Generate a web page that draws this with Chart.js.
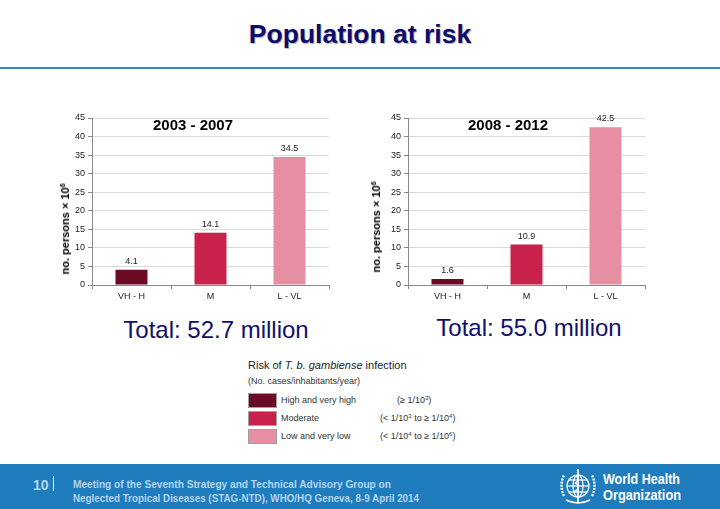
<!DOCTYPE html>
<html>
<head>
<meta charset="utf-8">
<script src="https://cdn.jsdelivr.net/npm/chart.js@4.4.1/dist/chart.umd.min.js"></script>
<style>
  body { margin: 0; width: 720px; height: 509px; position: relative; overflow: hidden; background: #fff;
         font-family: "Liberation Sans", Arial, sans-serif; color: #222; }
  .abs { position: absolute; white-space: nowrap; }
  #title { left: 0; width: 720px; top: 19px; text-align: center; font-size: 26.5px; font-weight: bold;
           color: #0c0c6a; text-shadow: 1px 1px 1px rgba(0,0,0,0.3); line-height: 30px; }
  #rule { left: 0; top: 67px; width: 720px; height: 2px; background: #3a84bf; }
  .box { position: absolute; }
  .sub { font-size: 15px; font-weight: bold; color: #000; transform: translate(-50%, -50%); line-height: 18px; }
  .ytitle { font-size: 11px; font-weight: bold; color: #000; transform: translate(-50%, -50%) rotate(-90deg); line-height: 14px; }
  .ytitle sup { font-size: 7px; vertical-align: 4px; line-height: 0; }
  .total { font-size: 24px; color: #10106a; transform: translate(-50%, -50%); line-height: 28px; }
  .lg { font-size: 9px; color: #333; line-height: 12px; }
  .lg sup { font-size: 6px; vertical-align: 3px; line-height: 0; }
  .sw { position: absolute; width: 27px; height: 13px; border: 1px solid #a0a0a0; }
  #footer { left: 0; top: 464px; width: 720px; height: 45px; background: #1f7cbd; }
  .ft { color: #b4d6f1; font-weight: bold; font-size: 11px; line-height: 13px; transform-origin: 0 50%; }
  .who { color: #fff; font-weight: bold; font-size: 15px; line-height: 16px; transform-origin: 0 50%; }
</style>
</head>
<body>
<div id="title" class="abs">Population at risk</div>
<div id="rule" class="abs"></div>

<div class="box" style="left:50px; top:108px; width:285px; height:200px;"><canvas id="c1" width="285" height="200"></canvas></div>
<div class="box" style="left:366px; top:108px; width:285px; height:200px;"><canvas id="c2" width="285" height="200"></canvas></div>

<div class="abs ytitle" style="left:65px; top:229px;">no. persons × 10<sup>6</sup></div>
<div class="abs ytitle" style="left:376px; top:227px;">no. persons × 10<sup>6</sup></div>
<div class="abs sub" id="sub1" style="left:193px; top:125px;"></div>
<div class="abs sub" id="sub2" style="left:508px; top:125px;"></div>
<div class="abs total" id="tot1" style="left:216px; top:330px;"></div>
<div class="abs total" id="tot2" style="left:529px; top:328px;"></div>

<div class="abs" style="left:248px; top:358px; font-size:11px; line-height:14px; color:#222;">Risk of <i>T. b. gambiense</i> infection</div>
<div class="abs lg" style="left:248px; top:375px;">(No. cases/inhabitants/year)</div>
<div id="legend"></div>

<div id="footer" class="abs">
  <div class="abs" style="left:33px; top:13px; color:#b4d6f1; font-weight:bold; font-size:14px; line-height:16px;">10</div>
  <div class="abs" style="left:53px; top:12px; width:1px; height:15px; background:#e8f2fa;"></div>
  <div class="abs ft" data-w="318" style="left:73px; top:14px;">Meeting of the Seventh Strategy and Technical Advisory Group on</div>
  <div class="abs ft" data-w="346" style="left:73px; top:28px;">Neglected Tropical Diseases (STAG-NTD), WHO/HQ Geneva, 8-9 April 2014</div>
  <svg class="abs" style="left:556px; top:2px;" width="44" height="42" viewBox="0 0 44 42">
    <g fill="none" stroke="#fff" stroke-width="1.2">
      <circle cx="22" cy="20" r="11"/>
      <ellipse cx="22" cy="20" rx="5" ry="11"/>
      <line x1="11" y1="20" x2="33" y2="20"/>
      <line x1="13" y1="14" x2="31" y2="14"/>
      <line x1="13" y1="26" x2="31" y2="26"/>
      <path d="M8 30 Q3 20 8 9" stroke-width="2.4" stroke-dasharray="2 1.2"/>
      <path d="M36 30 Q41 20 36 9" stroke-width="2.4" stroke-dasharray="2 1.2"/>
      <path d="M10 34 Q22 40 34 34" stroke-width="1.6"/>
      <line x1="22" y1="3" x2="22" y2="37" stroke-width="1.8"/>
      <path d="M19 10 Q26 13 19 17 Q26 21 19 25 Q25 28 21 31"/>
    </g>
  </svg>
  <div class="abs who" data-w="77" style="left:603px; top:7px;">World Health</div>
  <div class="abs who" data-w="78" style="left:603px; top:23px;">Organization</div>
</div>

<script>
const fontFamily = '"Liberation Sans", Arial, sans-serif';

// chart data
const categories = ['VH - H', 'M', 'L - VL'];
const values2003 = [4.1, 14.1, 34.5];
const values2008 = [1.6, 10.9, 42.5];
const periodLabels = ['2003 - 2007', '2008 - 2012'];
const totalLabels = ['Total: 52.7 million', 'Total: 55.0 million'];
const yMax = 45;
const yStep = 5;
const barColors = ['#6b0b25', '#c8224b', '#e68ea2'];

// legend
const legendNames = ['High and very high', 'Moderate', 'Low and very low'];
const legendRanges = ['(≥ 1/10<sup>3</sup>)', '(&lt; 1/10<sup>3</sup> to ≥ 1/10<sup>4</sup>)', '(&lt; 1/10<sup>4</sup> to ≥ 1/10<sup>6</sup>)'];

document.getElementById('sub1').textContent = periodLabels[0];
document.getElementById('sub2').textContent = periodLabels[1];
document.getElementById('tot1').textContent = totalLabels[0];
document.getElementById('tot2').textContent = totalLabels[1];

let lg = document.getElementById('legend');
legendNames.forEach((name, i) => {
  let y = 393 + i * 18;
  lg.insertAdjacentHTML('beforeend', `
    <div class="sw" style="left:248px; top:${y}px; background:${barColors[i]};"></div>
    <div class="abs lg" style="left:281px; top:${y + 1}px;">${name}</div>
    <div class="abs lg" style="left:${i == 0 ? 397 : 380}px; top:${y + 1}px;">${legendRanges[i]}</div>`);
});

// squeeze footer texts to their width (narrow font look)
document.querySelectorAll('[data-w]').forEach(el => {
  let w = el.getBoundingClientRect().width;
  el.style.transform = `scaleX(${el.dataset.w / w})`;
});

const valueLabels = {
  id: 'valueLabels',
  afterDatasetsDraw(chart) {
    const ctx = chart.ctx;
    const meta = chart.getDatasetMeta(0);
    ctx.save();
    ctx.font = '9px ' + fontFamily;
    ctx.fillStyle = '#222';
    ctx.textAlign = 'center';
    ctx.textBaseline = 'bottom';
    meta.data.forEach((bar, i) => {
      ctx.fillText(chart.data.datasets[0].data[i].toFixed(1), bar.x, bar.y - 4);
    });
    ctx.restore();
  }
};

function makeChart(id, values) {
  return new Chart(document.getElementById(id), {
    type: 'bar',
    data: {
      labels: categories,
      datasets: [{ data: values, backgroundColor: barColors, barPercentage: 0.405, categoryPercentage: 1 }]
    },
    options: {
      responsive: false,
      animation: false,
      layout: { padding: { top: 10, right: 6, bottom: 3, left: 0 } },
      plugins: { legend: { display: false }, tooltip: { enabled: false } },
      scales: {
        x: {
          grid: { drawOnChartArea: false, drawTicks: true, tickLength: 4, color: '#888' },
          border: { color: '#888' },
          ticks: { font: { size: 9, family: fontFamily }, color: '#222', padding: 2 },
          afterFit: s => { s.height = 20; }
        },
        y: {
          min: 0, max: yMax,
          ticks: { stepSize: yStep, font: { size: 9, family: fontFamily }, color: '#222', padding: 3 },
          grid: { color: '#d9d9d9', tickLength: 4, tickColor: '#888' },
          border: { color: '#888' },
          afterFit: s => { s.width = 42; }
        }
      }
    },
    plugins: [valueLabels]
  });
}

makeChart('c1', values2003);
makeChart('c2', values2008);
</script>
</body>
</html>
